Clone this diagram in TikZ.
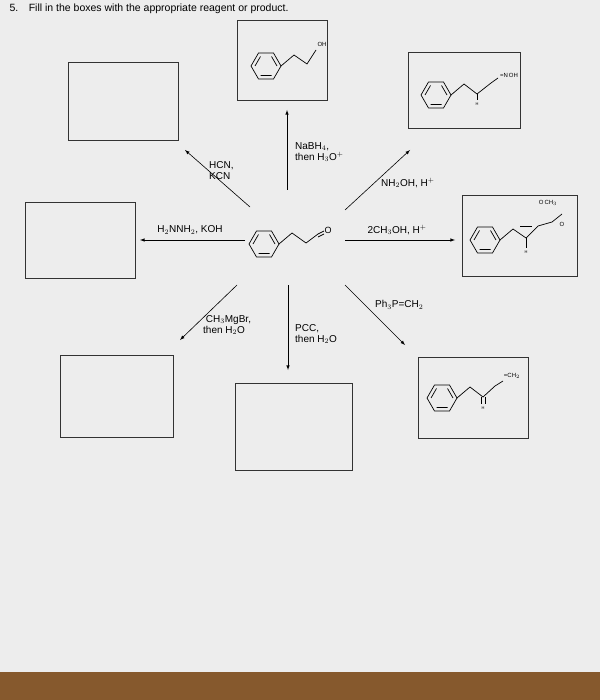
\documentclass[tikz,border=0pt]{standalone}
\usepackage{fontspec}
\setmainfont{Liberation Sans}
\begin{document}
\begin{tikzpicture}[x=1pt,y=-1pt,
  box/.style={draw=black!80,line width=0.9pt},
  lab/.style={font=\fontsize{10}{11}\selectfont,align=left,inner sep=1pt},
  rxn/.style={-latex,line width=0.6pt},
  bond/.style={line width=0.7pt},
  small/.style={font=\fontsize{6}{7}\selectfont,inner sep=0pt},
  benz/.pic={\draw[bond] (0:15)--(60:15)--(120:15)--(180:15)--(240:15)--(300:15)--cycle;
    \draw[bond] (60:11)--(120:11) (180:11)--(240:11) (300:11)--(0:11);}]
\useasboundingbox (0,0) rectangle (600,700);
\fill[black!7] (0,0) rectangle (600,672);
\fill[brown!70!black] (0,672) rectangle (600,700);
\node[anchor=west,font=\fontsize{10.5}{12}\selectfont] (title) at (6,9) {5.\quad Fill in the boxes with the appropriate reagent or product.};
% boxes
\draw[box] (237,20) rectangle (327,100);
\draw[box] (68,62) rectangle (178,140);
\draw[box] (408,52) rectangle (520,128);
\draw[box] (25,202) rectangle (135,278);
\draw[box] (462,195) rectangle (577,276);
\draw[box] (60,355) rectangle (173,437);
\draw[box] (235,383) rectangle (352,470);
\draw[box] (418,357) rectangle (528,438);
% center molecule
\pic at (264,244) {benz};
\draw[bond] (279,244)--(292,233)--(306,243)--(318,234);
\draw[bond] (318,234)--(324,231) (318,237)--(324,234);
\node[small,font=\fontsize{9}{10}\selectfont] (o) at (328,230) {O};
% top-center product
\pic at (266,66) {benz};
\draw[bond] (281,66)--(294,55)--(307,64)--(316,50);
\node[small] (oh) at (322,44) {OH};
% top-right
\pic at (436,95) {benz};
\draw[bond] (451,95)--(464,84)--(477,94)--(491,83)--(498,78);
\draw[bond] (477,94)--(477,100);
\node[small] (nh) at (509,75) {=N\,OH};
\node[small,font=\fontsize{4}{5}\selectfont] (h1) at (477,104) {H};
% mid-right
\pic at (485,240) {benz};
\draw[bond] (500,240)--(513,229)--(526,238)--(538,226)--(552,222)--(562,214);
\draw[bond] (526,238)--(526,248) (520,226)--(532,226);
\node[small] (och) at (548,203) {O\,CH$_3$};
\node[small] (o2) at (562,224) {O};
\node[small,font=\fontsize{4}{5}\selectfont] (h2) at (526,252) {H};
% bottom-right
\pic at (442,398) {benz};
\draw[bond] (457,398)--(470,387)--(483,397)--(495,386)--(503,381);
\draw[bond] (481,397)--(481,404) (485,397)--(485,404);
\node[small] (ch2) at (512,376) {=CH$_2$};
\node[small,font=\fontsize{4}{5}\selectfont] (h3) at (483,408) {H};
% arrows
\coordinate (c1) at (287,190); \coordinate (t1) at (287,110);
\draw[rxn] (c1)--(t1);
\node[lab,anchor=west] (l1) at (294,152) {NaBH$_4$,\\then H$_3$O$^+$};
\coordinate (c2) at (250,207); \coordinate (t2) at (185,150);
\draw[rxn] (c2)--(t2);
\node[lab,anchor=west] (l2) at (208,171) {HCN,\\ KCN};
\coordinate (c3) at (345,210); \coordinate (t3) at (410,150);
\draw[rxn] (c3)--(t3);
\node[lab,anchor=west] (l3) at (380,183) {NH$_2$OH, H$^+$};
\coordinate (c4) at (245,240); \coordinate (t4) at (140,240);
\draw[rxn] (c4)--(t4);
\node[lab] (l4) at (190,230) {H$_2$NNH$_2$, KOH};
\coordinate (c5) at (345,240); \coordinate (t5) at (455,240);
\draw[rxn] (c5)--(t5);
\node[lab] (l5) at (397,230) {2CH$_3$OH, H$^+$};
\coordinate (c6) at (237,285); \coordinate (t6) at (180,340);
\draw[rxn] (c6)--(t6);
\node[lab,anchor=west] (l6) at (202,325) {\ CH$_3$MgBr,\\then H$_2$O};
\coordinate (c7) at (288,285); \coordinate (t7) at (288,370);
\draw[rxn] (c7)--(t7);
\node[lab,anchor=west] (l7) at (294,334) {PCC,\\then H$_2$O};
\coordinate (c8) at (345,285); \coordinate (t8) at (405,345);
\draw[rxn] (c8)--(t8);
\node[lab,anchor=west] (l8) at (374,305) {Ph$_3$P=CH$_2$};
\end{tikzpicture}
\end{document}
